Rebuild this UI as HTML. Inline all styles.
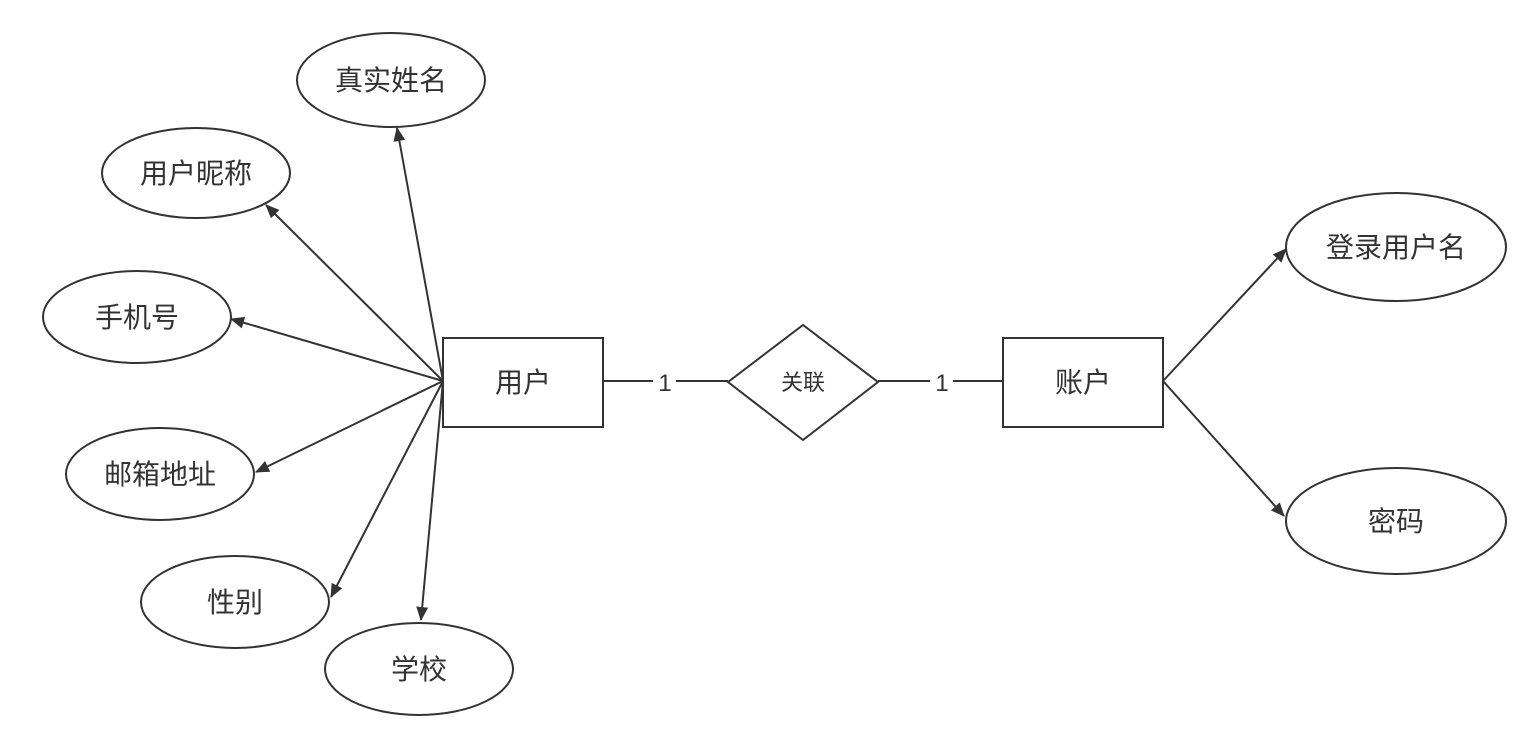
<!DOCTYPE html>
<html><head><meta charset="utf-8"><style>
html,body{margin:0;padding:0;background:#fff;}
svg text{font-family:"Liberation Sans","Noto Sans CJK SC",sans-serif;fill:#333;}
</style></head><body>
<svg width="1536" height="739" viewBox="0 0 1536 739" xmlns="http://www.w3.org/2000/svg">
<defs><marker id="a" markerWidth="10" markerHeight="10" refX="9" refY="5" orient="auto" markerUnits="userSpaceOnUse" viewBox="0 0 10 10"><path d="M0,0 L10,5 L0,10 Z" fill="#333"/></marker>
<marker id="b" markerWidth="14" markerHeight="14" refX="13" refY="7" orient="auto" markerUnits="userSpaceOnUse" viewBox="0 0 14 14"><path d="M0,1 L14,7 L0,13 Z" fill="#333"/></marker></defs>
<g fill="#fff" stroke="#333" stroke-width="2">
<ellipse cx="391" cy="80" rx="94" ry="47"/>
<ellipse cx="196" cy="173" rx="94" ry="45"/>
<ellipse cx="137" cy="317" rx="94" ry="46"/>
<ellipse cx="160" cy="474" rx="94" ry="46"/>
<ellipse cx="235" cy="602" rx="94" ry="46"/>
<ellipse cx="419" cy="669" rx="94" ry="46"/>
<ellipse cx="1396" cy="247" rx="110" ry="54"/>
<ellipse cx="1396" cy="521" rx="110" ry="53"/>
<rect x="443" y="338" width="160" height="89"/>
<rect x="1003" y="338" width="160" height="89"/>
<polygon points="728,382 803,325 878,382 803,440"/>
</g>
<g stroke="#333" stroke-width="2" fill="none">
<line x1="443" y1="381" x2="397" y2="128" marker-end="url(#b)"/>
<line x1="443" y1="381" x2="266" y2="205" marker-end="url(#b)"/>
<line x1="443" y1="381" x2="231" y2="319" marker-end="url(#b)"/>
<line x1="443" y1="381" x2="256" y2="472" marker-end="url(#b)"/>
<line x1="443" y1="381" x2="331" y2="597" marker-end="url(#b)"/>
<line x1="443" y1="381" x2="421" y2="620" marker-end="url(#b)"/>
<line x1="1163" y1="381" x2="1286" y2="249" marker-end="url(#b)"/>
<line x1="1163" y1="381" x2="1284" y2="516" marker-end="url(#b)"/>
<line x1="603" y1="381" x2="653" y2="381"/>
<line x1="676" y1="381" x2="728" y2="381"/>
<line x1="878" y1="381" x2="930" y2="381"/>
<line x1="953" y1="381" x2="1003" y2="381"/>
</g>
<g font-size="28" text-anchor="middle">
<text x="391" y="90">真实姓名</text>
<text x="196" y="183">用户昵称</text>
<text x="137" y="327">手机号</text>
<text x="160" y="484">邮箱地址</text>
<text x="235" y="612">性别</text>
<text x="419" y="679">学校</text>
<text x="1396" y="257">登录用户名</text>
<text x="1396" y="531">密码</text>
<text x="523" y="392">用户</text>
<text x="1083" y="392">账户</text>
</g>
<text x="803" y="390" font-size="22" text-anchor="middle">关联</text>
<text x="665" y="391" font-size="24" text-anchor="middle">1</text>
<text x="942" y="391" font-size="24" text-anchor="middle">1</text>
</svg>
</body></html>
